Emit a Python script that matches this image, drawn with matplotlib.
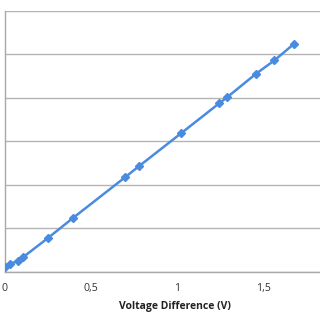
import matplotlib
matplotlib.use("Agg")
import matplotlib.pyplot as plt

voltage = [0.0, 0.031, 0.079, 0.108, 0.251, 0.398, 0.698, 0.778, 1.025, 1.244, 1.292, 1.458, 1.565, 1.679]
response = [0.122, 0.183, 0.259, 0.344, 0.780, 1.245, 2.172, 2.424, 3.188, 3.869, 4.014, 4.548, 4.856, 5.236]
xticks = [0, 0.5, 1, 1.5]
xticklabels = ["0", "0,5", "1", "1,5"]
yticks = [0, 1, 2, 3, 4, 5, 6]

fig = plt.figure(figsize=(3.2, 3.2), dpi=100)
ax = fig.add_axes([0.0147, 0.15, 1.077, 0.817])
color = "#4a8be0"
ax.plot(voltage, response, color=color, lw=1.8, marker="D", ms=4.2,
        mfc=color, mec=color, zorder=3)
ax.set_xlim(0, 2)
ax.set_ylim(0, 6)
ax.set_yticks(yticks)
ax.set_yticklabels([])
ax.tick_params(axis="y", length=0)
ax.set_xticks(xticks)
ax.set_xticklabels(xticklabels, fontsize=7.6, family="Open Sans", color="#333333")
ax.tick_params(axis="x", length=0, pad=8)
ax.grid(axis="y", color="#b4b4b4", lw=1)
for s in ["top", "right"]:
    ax.spines[s].set_visible(False)
for s in ["left", "bottom"]:
    ax.spines[s].set_color("#a8a8a8")
    ax.spines[s].set_linewidth(1)
ax.set_axisbelow(True)
fig.text(0.547, 0.043, "Voltage Difference (V)", ha="center", va="center",
         fontsize=7.5, fontweight="bold", family="Open Sans", color="#222222")
fig.savefig("out.png", dpi=100)
